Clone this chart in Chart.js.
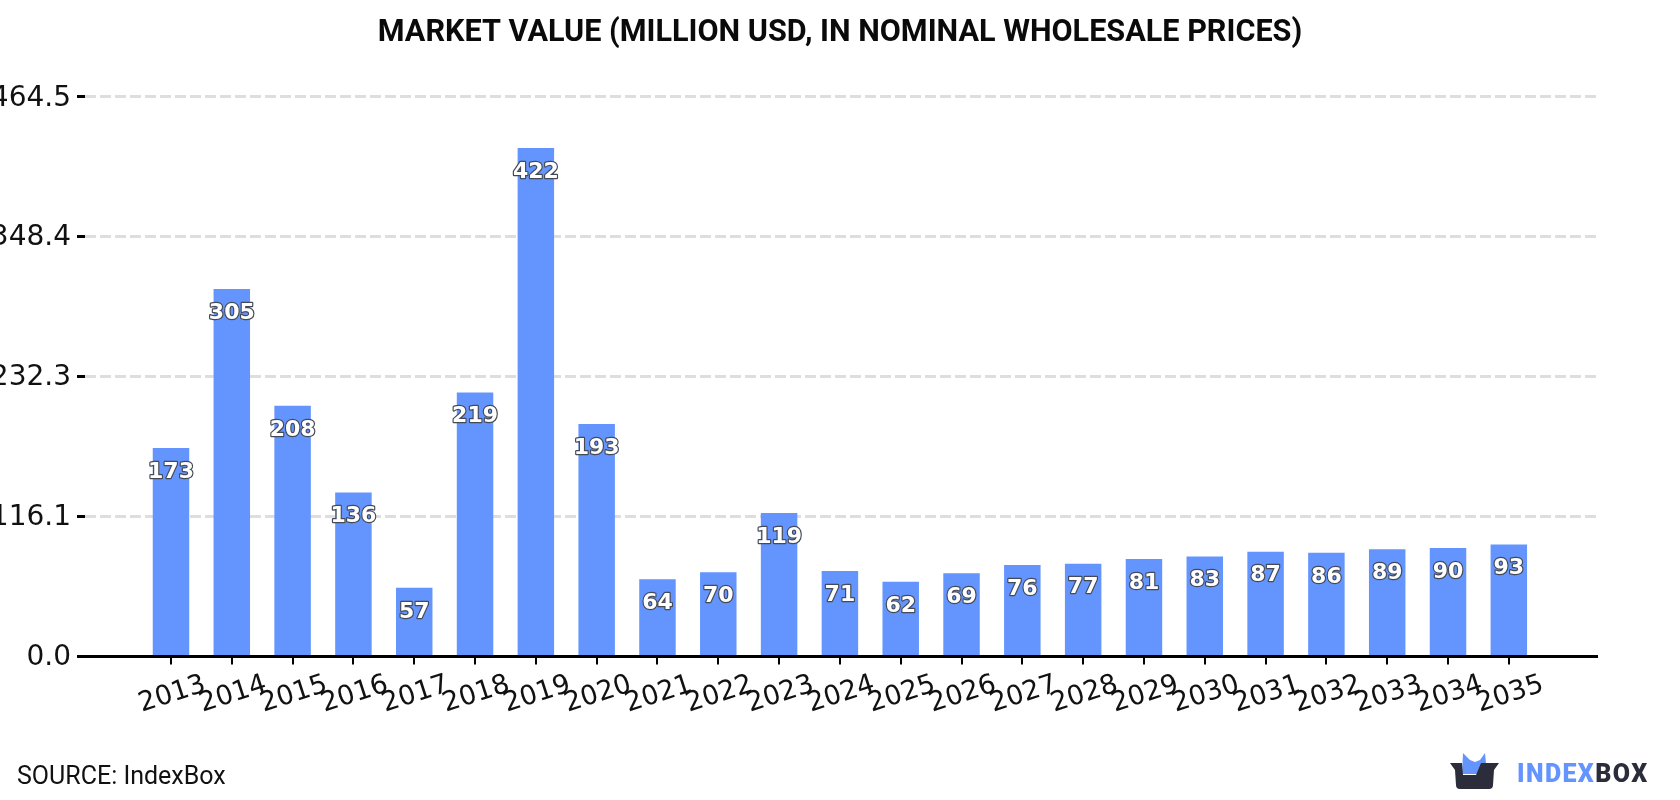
<!DOCTYPE html>
<html>
<head>
<meta charset="utf-8">
<title>Market value</title>
<script src="https://cdn.jsdelivr.net/npm/chart.js@4"></script>
<style>
  html, body { margin: 0; padding: 0; background: #fff; }
  #wrap { position: relative; width: 1680px; height: 800px; overflow: hidden; }
  #marketChart { position: absolute; left: 0; top: 0; }
  #source { position: absolute; left: 17px; top: 761px; font: 25px Roboto, sans-serif; color: #111; }
  #logoMark { position: absolute; left: 1450px; top: 752px; }
  #logoText { position: absolute; left: 1517px; top: 759px; font: 900 25px Roboto, sans-serif; letter-spacing: 1.4px; color: #6495ff; }
  #logoText span { color: #2b2d3a; }
</style>
</head>
<body>
<div id="wrap">
  <canvas id="marketChart" width="1680" height="800"></canvas>
  <div id="source">SOURCE: IndexBox</div>
  <svg id="logoMark" width="50" height="38" viewBox="0 0 50 38">
    <path d="M12 22 L13 1 L20 8 L25 10 L30 8 L35 1 L37 22 L26 22 Z" fill="#6495ff"/>
    <path d="M0 11 L12 11 L13 23 L26 23 L31 11 L49 11 L44 18 L43 33 Q43 37 39 37 L10 37 Q6 37 6 33 L5 18 Z" fill="#2b2d3a"/>
  </svg>
  <div id="logoText">INDEX<span>BOX</span></div>
</div>
<script>
const years = [2013, 2014, 2015, 2016, 2017, 2018, 2019, 2020, 2021, 2022, 2023, 2024, 2025, 2026, 2027, 2028, 2029, 2030, 2031, 2032, 2033, 2034, 2035]
const marketValues = [173, 305, 208, 136, 57, 219, 422, 193, 64, 70, 119, 71, 62, 69, 76, 77, 81, 83, 87, 86, 89, 90, 93]
const valueTicks = [0.0, 116.1, 232.3, 348.4, 464.5]

const barColor = '#6495ff'
const gridColor = '#dedede'
const textColor = '#111111'

// white numbers with a dark outline, just under the top of each bar
const barValueLabels = {
	id: 'barValueLabels',
	afterDatasetsDraw(chart) {
		const ctx = chart.ctx
		const bars = chart.getDatasetMeta(0).data
		ctx.save()
		ctx.font = 'bold 22px "DejaVu Sans"'
		ctx.textAlign = 'center'
		ctx.textBaseline = 'middle'
		ctx.lineJoin = 'round'
		for (var i = 0; i < bars.length; i++) {
			var x = bars[i].x
			var y = bars[i].y + 24
			ctx.lineWidth = 2.4
			ctx.strokeStyle = '#444a55'
			ctx.strokeText(marketValues[i], x, y)
			ctx.fillStyle = '#ffffff'
			ctx.fillText(marketValues[i], x, y)
		}
		ctx.restore()
	}
}

var ctx = document.getElementById('marketChart')
new Chart(ctx, {
	type: 'bar',
	data: {
		labels: years,
		datasets: [{
			data: marketValues,
			backgroundColor: barColor,
			barPercentage: 0.6,
			categoryPercentage: 1,
		}]
	},
	plugins: [barValueLabels],
	options: {
		responsive: false,
		animation: false,
		plugins: {
			legend: { display: false },
			tooltip: { enabled: false },
			title: {
				display: true,
				text: 'MARKET VALUE (MILLION USD, IN NOMINAL WHOLESALE PRICES)',
				color: '#0a0a0a',
				font: { family: 'Roboto', size: 30.6, weight: 'bold' },
				padding: { top: 15, bottom: 45 },
			},
		},
		scales: {
			x: {
				type: 'linear',
				offset: false,
				min: 2011.586,
				max: 2036.45,
				afterBuildTicks(scale) { scale.ticks = years.map(v => ({ value: v })) },
				afterFit(scale) { scale.height = 143.5 },
				border: { color: '#000', width: 3 },
				grid: { offset: false, drawOnChartArea: false, color: '#000', lineWidth: 2, tickLength: 8 },
				ticks: {
					autoSkip: false,
					minRotation: 18,
					maxRotation: 18,
					labelOffset: 34,
					padding: 4,
					color: textColor,
					font: { family: 'DejaVu Sans', size: 27 },
					callback: v => String(v),
				},
			},
			y: {
				min: 0,
				max: 464.5,
				afterBuildTicks(scale) { scale.ticks = valueTicks.map(v => ({ value: v })) },
				afterFit(scale) { scale.width = 85 },
				border: { display: false, dash: [11, 4] },
				grid: {
					color: gridColor,
					lineWidth: 3,
					tickColor: '#000',
					tickLength: 8,
					tickWidth: 3,
				},
				ticks: {
					padding: 6,
					labelOffset: 1.5,
					color: textColor,
					font: { family: 'DejaVu Sans', size: 28 },
					callback: v => v.toFixed(1),
				},
			},
			// empty axis keeps the white strip right of the plot without moving the title
			rightGap: {
				position: 'right',
				afterFit(scale) { scale.width = 83 },
				border: { display: false },
				grid: { display: false },
				ticks: { display: false },
			},
		},
	},
})
</script>
</body>
</html>
